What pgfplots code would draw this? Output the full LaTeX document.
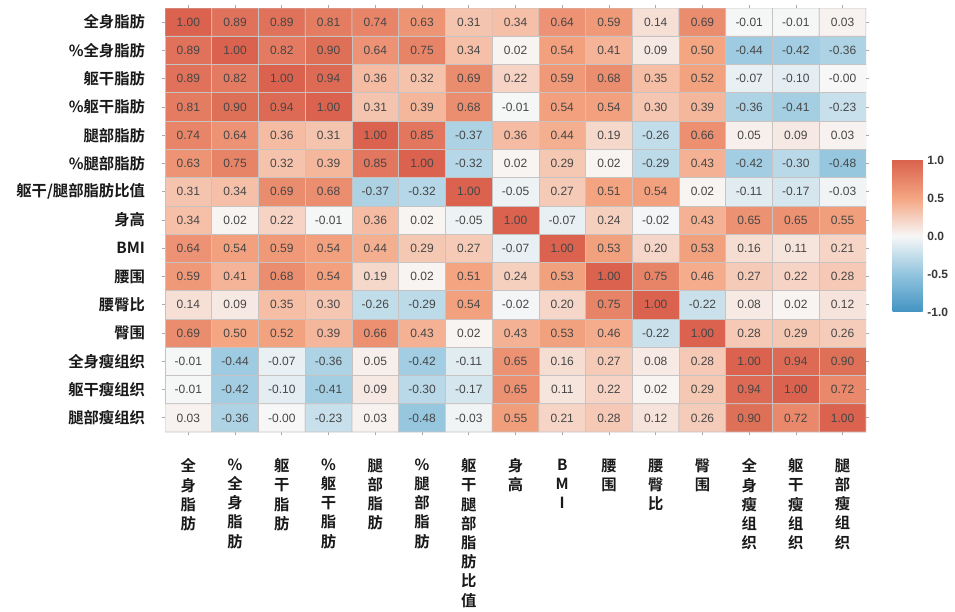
\documentclass[border=0pt]{standalone}
\usepackage{pgfplots}
\pgfplotsset{compat=1.18}
\usepackage{fontspec}
\setmainfont{Liberation Sans}
\newfontfamily\cjkb{Noto Sans CJK SC Bold}

\definecolor{numgray}{RGB}{70,70,70}
\definecolor{barlab}{RGB}{55,55,55}
\definecolor{labblack}{RGB}{25,25,25}
\definecolor{tickgray}{RGB}{170,170,170}
\definecolor{cellline}{RGB}{200,195,195}

\begin{document}
\begin{tikzpicture}
% page frame (955 x 610 px at 0.75pt per px)
\path (0,0) rectangle (716.25pt,457.5pt);
\begin{axis}[
  at={(123.75pt,451.5pt)}, anchor=north west,
  scale only axis, width=525.75pt, height=318pt,
  xmin=-0.5, xmax=14.5, ymin=-0.5, ymax=14.5,
  y dir=reverse,
  axis line style={draw=none},
  tick align=outside, major tick length=2.5pt,
  tick style={tickgray, line width=0.6pt},
  xtick={0,...,14}, ytick={0,...,14},
  yticklabels={全身脂肪,\%全身脂肪,躯干脂肪,\%躯干脂肪,腿部脂肪,\%腿部脂肪,躯干/腿部脂肪比值,身高,BMI,腰围,腰臀比,臀围,全身瘦组织,躯干瘦组织,腿部瘦组织},
  xticklabels={{全\\身\\脂\\肪},{\%\\全\\身\\脂\\肪},{躯\\干\\脂\\肪},{\%\\躯\\干\\脂\\肪},{腿\\部\\脂\\肪},{\%\\腿\\部\\脂\\肪},{躯\\干\\腿\\部\\脂\\肪\\比\\值},{身\\高},{B\\M\\I},{腰\\围},{腰\\臀\\比},{臀\\围},{全\\身\\瘦\\组\\织},{躯\\干\\瘦\\组\\织},{腿\\部\\瘦\\组\\织}},
  yticklabel style={font=\cjkb\fontsize{11.5}{14}\selectfont, text=labblack, anchor=east, xshift=-9pt},
  xticklabel style={font=\cjkb\fontsize{11.5}{14.4}\selectfont, text=labblack, anchor=north, align=center, yshift=-14pt},
  colormap={rdbu}{rgb255=(67,147,195) rgb255=(146,197,222) rgb255=(247,247,247) rgb255=(244,165,130) rgb255=(218,98,78)},
  point meta min=-1, point meta max=1,
  colorbar,
  colorbar/width=22.5pt,
  colorbar style={
    at={(parent axis.north east)}, anchor=north west,
    xshift=11.5pt, yshift=-114pt,
    scale only axis, height=114pt,
    axis line style={draw=none},
    ytick={-1,-0.5,0,0.5,1},
    yticklabels={-1.0,-0.5,0.0,0.5,1.0},
    major tick length=0pt,
    yticklabel style={font=\bfseries\fontsize{9}{10}\selectfont, text=barlab, xshift=0pt},
  },
]
\addplot[
  matrix plot*, mesh/cols=15, point meta=explicit,
  draw=cellline, line width=0.5pt,
  visualization depends on={value \thisrow{c}\as\lbl},
  nodes near coords={\lbl},
  nodes near coords style={anchor=center, font=\fontsize{9}{10}\selectfont, text=numgray},
] table[x=x, y=y, meta=c] {
x y c
0 0 1.00
1 0 0.89
2 0 0.89
3 0 0.81
4 0 0.74
5 0 0.63
6 0 0.31
7 0 0.34
8 0 0.64
9 0 0.59
10 0 0.14
11 0 0.69
12 0 -0.01
13 0 -0.01
14 0 0.03
0 1 0.89
1 1 1.00
2 1 0.82
3 1 0.90
4 1 0.64
5 1 0.75
6 1 0.34
7 1 0.02
8 1 0.54
9 1 0.41
10 1 0.09
11 1 0.50
12 1 -0.44
13 1 -0.42
14 1 -0.36
0 2 0.89
1 2 0.82
2 2 1.00
3 2 0.94
4 2 0.36
5 2 0.32
6 2 0.69
7 2 0.22
8 2 0.59
9 2 0.68
10 2 0.35
11 2 0.52
12 2 -0.07
13 2 -0.10
14 2 -0.00
0 3 0.81
1 3 0.90
2 3 0.94
3 3 1.00
4 3 0.31
5 3 0.39
6 3 0.68
7 3 -0.01
8 3 0.54
9 3 0.54
10 3 0.30
11 3 0.39
12 3 -0.36
13 3 -0.41
14 3 -0.23
0 4 0.74
1 4 0.64
2 4 0.36
3 4 0.31
4 4 1.00
5 4 0.85
6 4 -0.37
7 4 0.36
8 4 0.44
9 4 0.19
10 4 -0.26
11 4 0.66
12 4 0.05
13 4 0.09
14 4 0.03
0 5 0.63
1 5 0.75
2 5 0.32
3 5 0.39
4 5 0.85
5 5 1.00
6 5 -0.32
7 5 0.02
8 5 0.29
9 5 0.02
10 5 -0.29
11 5 0.43
12 5 -0.42
13 5 -0.30
14 5 -0.48
0 6 0.31
1 6 0.34
2 6 0.69
3 6 0.68
4 6 -0.37
5 6 -0.32
6 6 1.00
7 6 -0.05
8 6 0.27
9 6 0.51
10 6 0.54
11 6 0.02
12 6 -0.11
13 6 -0.17
14 6 -0.03
0 7 0.34
1 7 0.02
2 7 0.22
3 7 -0.01
4 7 0.36
5 7 0.02
6 7 -0.05
7 7 1.00
8 7 -0.07
9 7 0.24
10 7 -0.02
11 7 0.43
12 7 0.65
13 7 0.65
14 7 0.55
0 8 0.64
1 8 0.54
2 8 0.59
3 8 0.54
4 8 0.44
5 8 0.29
6 8 0.27
7 8 -0.07
8 8 1.00
9 8 0.53
10 8 0.20
11 8 0.53
12 8 0.16
13 8 0.11
14 8 0.21
0 9 0.59
1 9 0.41
2 9 0.68
3 9 0.54
4 9 0.19
5 9 0.02
6 9 0.51
7 9 0.24
8 9 0.53
9 9 1.00
10 9 0.75
11 9 0.46
12 9 0.27
13 9 0.22
14 9 0.28
0 10 0.14
1 10 0.09
2 10 0.35
3 10 0.30
4 10 -0.26
5 10 -0.29
6 10 0.54
7 10 -0.02
8 10 0.20
9 10 0.75
10 10 1.00
11 10 -0.22
12 10 0.08
13 10 0.02
14 10 0.12
0 11 0.69
1 11 0.50
2 11 0.52
3 11 0.39
4 11 0.66
5 11 0.43
6 11 0.02
7 11 0.43
8 11 0.53
9 11 0.46
10 11 -0.22
11 11 1.00
12 11 0.28
13 11 0.29
14 11 0.26
0 12 -0.01
1 12 -0.44
2 12 -0.07
3 12 -0.36
4 12 0.05
5 12 -0.42
6 12 -0.11
7 12 0.65
8 12 0.16
9 12 0.27
10 12 0.08
11 12 0.28
12 12 1.00
13 12 0.94
14 12 0.90
0 13 -0.01
1 13 -0.42
2 13 -0.10
3 13 -0.41
4 13 0.09
5 13 -0.30
6 13 -0.17
7 13 0.65
8 13 0.11
9 13 0.22
10 13 0.02
11 13 0.29
12 13 0.94
13 13 1.00
14 13 0.72
0 14 0.03
1 14 -0.36
2 14 -0.00
3 14 -0.23
4 14 0.03
5 14 -0.48
6 14 -0.03
7 14 0.55
8 14 0.21
9 14 0.28
10 14 0.12
11 14 0.26
12 14 0.90
13 14 0.72
14 14 1.00
};
\end{axis}
\end{tikzpicture}
\end{document}
